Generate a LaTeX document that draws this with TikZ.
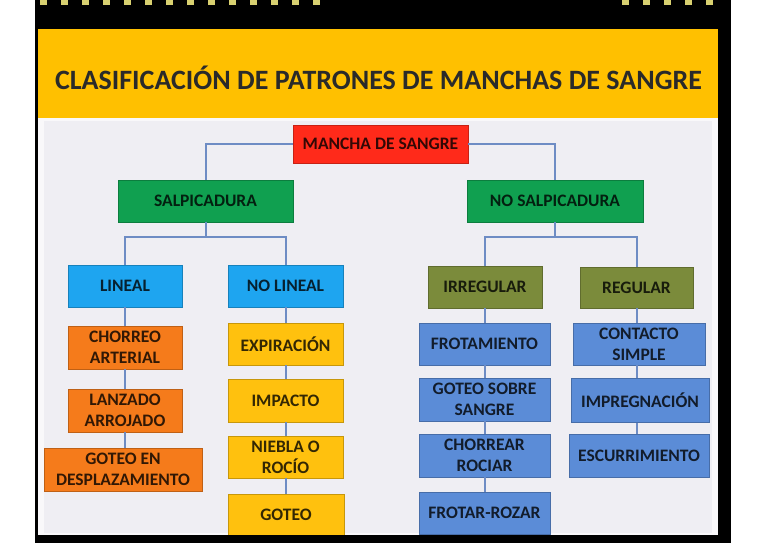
\documentclass[tikz,border=0pt]{standalone}
\usepackage{fontspec}
\setmainfont{Carlito}
\definecolor{cred}{HTML}{FF2A1A}
\definecolor{cgreen}{HTML}{10A050}
\definecolor{clblue}{HTML}{1EA5F0}
\definecolor{colive}{HTML}{7B8B3B}
\definecolor{corange}{HTML}{F57B1B}
\definecolor{cyellow}{HTML}{FFC10E}
\definecolor{csteel}{HTML}{5B8CD7}
\definecolor{titley}{HTML}{FFC000}
\definecolor{contentbg}{HTML}{EFEEF3}
\definecolor{connc}{HTML}{6E8CC4}
\definecolor{dashy}{HTML}{D8D070}
\definecolor{titlec}{HTML}{2A2A2A}
\begin{document}
\begin{tikzpicture}[x=1pt,y=-1pt,
  box/.style={rectangle, draw=#1!78!black, fill=#1, line width=0.8pt, inner sep=0pt, align=center, text=#1!20!black, font=\fontsize{17.5}{21}\selectfont\bfseries},
  conn/.style={draw=connc, line width=2pt},
  titlefont/.style={font=\fontsize{28}{30}\selectfont\bfseries}]
\useasboundingbox (0,0) rectangle (768,543);
% frame and background
\fill[white] (0,0) rectangle (768,543);
\fill[black] (35,0) rectangle (731,543);
\foreach \x in {40,61,...,330} \fill[dashy] (\x,0) rectangle (\x+7,5);
\foreach \x in {622,643,...,725} \fill[dashy] (\x,0) rectangle (\x+7,5);
\fill[titley] (38,29) rectangle (718,118);
\fill[white!60!contentbg] (38,118) rectangle (718,536);
\fill[contentbg] (44,121) rectangle (712,533);
% title
\node[titlefont, text=titlec] (title) at (378.5,78) {CLASIFICACIÓN DE PATRONES DE MANCHAS DE SANGRE};
% nodes
\node[box=cred, minimum width=175, minimum height=38] (m) at (380.5,144) {MANCHA DE SANGRE};
\node[box=cgreen, minimum width=175, minimum height=42] (s) at (205.5,201) {SALPICADURA};
\node[box=cgreen, minimum width=176, minimum height=42] (ns) at (555,201) {NO SALPICADURA};
\node[box=clblue, minimum width=114, minimum height=42] (lin) at (125,286) {LINEAL};
\node[box=clblue, minimum width=115, minimum height=42] (nlin) at (285.5,286) {NO LINEAL};
\node[box=colive, minimum width=114, minimum height=42] (irr) at (485,287) {IRREGULAR};
\node[box=colive, minimum width=113, minimum height=41] (reg) at (636.5,287.5) {REGULAR};
\node[box=corange, minimum width=114, minimum height=43] (ch) at (125,347.5) {CHORREO\\ARTERIAL};
\node[box=corange, minimum width=114, minimum height=43] (lz) at (125,410.5) {LANZADO\\ARROJADO};
\node[box=corange, minimum width=158, minimum height=43] (gd) at (123,469.5) {GOTEO EN\\DESPLAZAMIENTO};
\node[box=cyellow, minimum width=115, minimum height=42] (ex) at (285.5,344) {EXPIRACIÓN};
\node[box=cyellow, minimum width=115, minimum height=43] (im) at (285.5,400.5) {IMPACTO};
\node[box=cyellow, minimum width=115, minimum height=42] (nb) at (285.5,457) {NIEBLA O\\ROCÍO};
\node[box=cyellow, minimum width=116, minimum height=42] (gt) at (286,515) {GOTEO};
\node[box=csteel, minimum width=131, minimum height=42] (fr) at (484.5,344) {FROTAMIENTO};
\node[box=csteel, minimum width=131, minimum height=43] (gs) at (484.5,399.5) {GOTEO SOBRE\\SANGRE};
\node[box=csteel, minimum width=131, minimum height=43] (cr) at (484.5,455.5) {CHORREAR\\ROCIAR};
\node[box=csteel, minimum width=131, minimum height=42] (fz) at (484.5,513) {FROTAR-ROZAR};
\node[box=csteel, minimum width=132, minimum height=42] (ct) at (639,344) {CONTACTO\\SIMPLE};
\node[box=csteel, minimum width=138, minimum height=44] (ip) at (640,400.5) {IMPREGNACIÓN};
\node[box=csteel, minimum width=140, minimum height=43] (es) at (639,455.5) {ESCURRIMIENTO};
% connectors
\coordinate (sj) at (205.5,237);
\coordinate (nsj) at (555,237);
\draw[conn] (m.west) -| (s.north);
\draw[conn] (m.east) -| (ns.north);
\draw[conn] (s.south) -- (sj);
\draw[conn] (sj) -| (lin.north);
\draw[conn] (sj) -| (nlin.north);
\draw[conn] (ns.south) -- (nsj);
\draw[conn] (nsj) -| (irr.north);
\draw[conn] (nsj) -| (reg.north);
\draw[conn] (lin.south) -- (ch.north);
\draw[conn] (ch.south) -- (lz.north);
\draw[conn] (lz.south) -- (lz.south |- gd.north);
\draw[conn] (nlin.south) -- (ex.north);
\draw[conn] (ex.south) -- (im.north);
\draw[conn] (im.south) -- (nb.north);
\draw[conn] (nb.south) -- (nb.south |- gt.north);
\draw[conn] (irr.south) -- (irr.south |- fr.north);
\draw[conn] (irr.south |- fr.south) -- (irr.south |- gs.north);
\draw[conn] (irr.south |- gs.south) -- (irr.south |- cr.north);
\draw[conn] (irr.south |- cr.south) -- (irr.south |- fz.north);
\draw[conn] (reg.south) -- (reg.south |- ct.north);
\draw[conn] (reg.south |- ct.south) -- (reg.south |- ip.north);
\draw[conn] (reg.south |- ip.south) -- (reg.south |- es.north);
% bottom frame band
\fill[black] (35,535) rectangle (731,543);
\end{tikzpicture}
\end{document}
